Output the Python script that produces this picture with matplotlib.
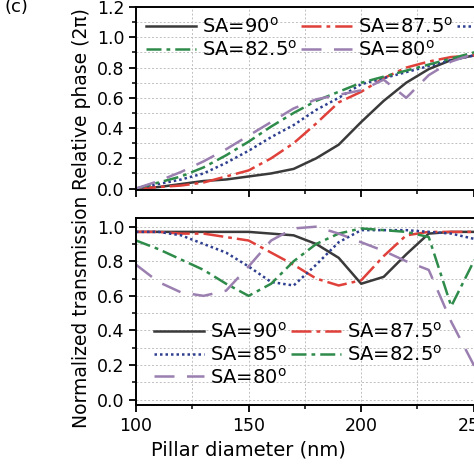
import matplotlib
matplotlib.use("Agg")
import matplotlib.pyplot as plt
from matplotlib.ticker import MultipleLocator

d = [100, 110, 120, 130, 140, 150, 160, 170, 180, 190, 200, 210, 220, 230, 240, 250, 260]
labels = ["SA=90$^{\\rm o}$", "SA=87.5$^{\\rm o}$", "SA=85$^{\\rm o}$", "SA=82.5$^{\\rm o}$", "SA=80$^{\\rm o}$"]
phase_90   = [0, 0.01, 0.03, 0.05, 0.06, 0.08, 0.10, 0.13, 0.20, 0.29, 0.44, 0.58, 0.70, 0.79, 0.85, 0.88, 0.90]
phase_875  = [0, 0.01, 0.02, 0.04, 0.08, 0.12, 0.20, 0.30, 0.43, 0.57, 0.64, 0.73, 0.80, 0.84, 0.87, 0.88, 0.90]
phase_85   = [0, 0.03, 0.06, 0.10, 0.17, 0.25, 0.34, 0.42, 0.52, 0.60, 0.69, 0.73, 0.77, 0.81, 0.85, 0.88, 0.90]
phase_825  = [0, 0.04, 0.08, 0.14, 0.22, 0.31, 0.41, 0.50, 0.58, 0.64, 0.70, 0.74, 0.78, 0.82, 0.86, 0.90, 0.92]
phase_80   = [0, 0.05, 0.11, 0.18, 0.26, 0.35, 0.44, 0.53, 0.59, 0.62, 0.65, 0.72, 0.60, 0.75, 0.84, 0.89, 0.91]
trans_90   = [0.97, 0.97, 0.97, 0.97, 0.97, 0.97, 0.96, 0.95, 0.90, 0.82, 0.67, 0.71, 0.84, 0.96, 0.97, 0.97, 0.97]
trans_875  = [0.97, 0.97, 0.96, 0.96, 0.94, 0.92, 0.85, 0.78, 0.70, 0.66, 0.69, 0.83, 0.95, 0.97, 0.97, 0.97, 0.97]
trans_85   = [0.97, 0.97, 0.95, 0.90, 0.85, 0.77, 0.68, 0.66, 0.78, 0.91, 0.98, 0.98, 0.98, 0.97, 0.96, 0.93, 0.90]
trans_825  = [0.92, 0.87, 0.81, 0.75, 0.67, 0.60, 0.67, 0.80, 0.90, 0.96, 0.99, 0.98, 0.97, 0.94, 0.54, 0.80, 0.95]
trans_80   = [0.78, 0.68, 0.62, 0.60, 0.63, 0.77, 0.92, 0.99, 1.00, 0.96, 0.91, 0.86, 0.80, 0.75, 0.45, 0.20, 0.60]

phases = [phase_90, phase_875, phase_85, phase_825, phase_80]
trans = [trans_90, trans_875, trans_85, trans_825, trans_80]
colors = ["#3a3a3a", "#e0403a", "#2f3f8f", "#2e8b4a", "#9a7fb0"]
styles = ["-", (0, (8, 2, 1.5, 2)), (0, (1, 1.2)), (0, (6, 2, 1.5, 2)), (0, (8, 5))]

fig = plt.figure(figsize=(4.74, 4.74), dpi=100)
ax1 = fig.add_axes([0.287, 0.599, 0.95, 0.386])
ax2 = fig.add_axes([0.287, 0.146, 0.95, 0.394])

handles = {}
for ax, data in ((ax1, phases), (ax2, trans)):
    hs = []
    for y, c, s, l in zip(data, colors, styles, labels):
        h, = ax.plot(d, y, color=c, linestyle=s, lw=1.8, label=l)
        hs.append(h)
    handles[ax] = hs
    ax.set_xlim(100, 300)
    ax.xaxis.set_major_locator(MultipleLocator(50))
    ax.xaxis.set_minor_locator(MultipleLocator(25))
    ax.yaxis.set_major_locator(MultipleLocator(0.2))
    ax.yaxis.set_minor_locator(MultipleLocator(0.1))
    ax.grid(True, which="both", linestyle=(0, (2, 2)), color="#c0c0c0", lw=0.7)
    ax.tick_params(labelsize=12.5, width=1.3, length=5)
    ax.tick_params(which="minor", width=1.1, length=3)
    for sp in ax.spines.values():
        sp.set_linewidth(1.4)

ax1.set_ylim(-0.01, 1.2)
ax1.set_xticklabels([])
ax1.set_ylabel("Relative phase (2π)", fontsize=13.5)
o1 = [0, 3, 1, 4, 2]
h1 = handles[ax1]
ax1.legend([h1[i] for i in o1], [labels[i] for i in o1], ncol=3, loc="upper left", fontsize=14,
           frameon=False, handlelength=2.6, borderaxespad=0.1, columnspacing=0.2,
           handletextpad=0.3, labelspacing=0.15)

ax2.set_ylim(-0.03, 1.05)
ax2.set_ylabel("Normalized transmission", fontsize=13.5)
ax2.set_xlabel("Pillar diameter (nm)", fontsize=14, x=0.25)
o2 = [0, 2, 4, 1, 3]
h2 = handles[ax2]
ax2.legend([h2[i] for i in o2], [labels[i] for i in o2], ncol=2, loc="lower left",
           bbox_to_anchor=(0.0, 0.0), fontsize=14, frameon=False, handlelength=2.6,
           columnspacing=0.2, handletextpad=0.3, labelspacing=0.15)

fig.text(0.01, 0.975, "(c)", fontsize=13)
fig.savefig("out.png", dpi=100)
